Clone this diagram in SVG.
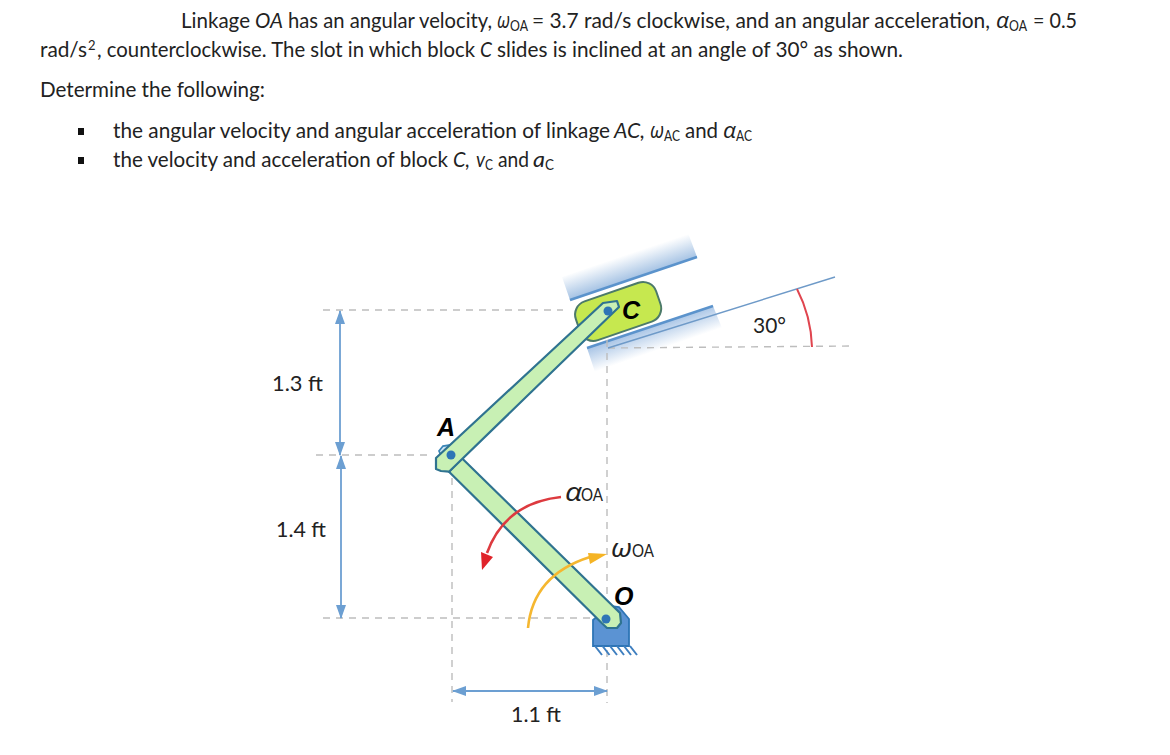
<svg xmlns="http://www.w3.org/2000/svg" width="1170" height="755" viewBox="0 0 1170 755">
<style>
text{font-family:Lato,"Open Sans","Liberation Sans",sans-serif;fill:#222;font-size:21px}
.i{font-style:italic}
.g{font-family:"Open Sans","Noto Sans","DejaVu Sans",sans-serif;font-style:italic}
.s{font-size:15px}
.d{font-size:21.500px}
.n{font-family:"Liberation Sans",Arial,sans-serif;font-weight:700;font-style:italic;font-size:25px;fill:#000}
.dash{fill:none;stroke:#bdbdbd;stroke-width:1.4;stroke-dasharray:7 6}
.dim{fill:none;stroke:#6c9fd2;stroke-width:1.8}
.link{fill:#c8f0b4;stroke:#2f7390;stroke-width:2.200;stroke-linejoin:round}
.pin{fill:#2e75b6}
.h{stroke:#3f7fc0;stroke-width:2}
</style>
<defs>
<linearGradient id="su" gradientUnits="userSpaceOnUse" x1="633" y1="279" x2="625" y2="255"><stop offset="0" stop-color="#a3c1e3"/><stop offset="1" stop-color="#fff"/></linearGradient>
<linearGradient id="sl" gradientUnits="userSpaceOnUse" x1="650" y1="327" x2="658" y2="350"><stop offset="0" stop-color="#a9c5e6"/><stop offset="1" stop-color="#fff"/></linearGradient>
<marker id="da" markerWidth="14" markerHeight="10" refX="13" refY="5" orient="auto-start-reverse" markerUnits="userSpaceOnUse"><path d="M0 0L14 5L0 10Z" fill="#6c9fd2"/></marker>
</defs>
<rect width="1170" height="755" fill="#fff"/>

<g id="problem-text">
<text x="181" y="28" textLength="69" lengthAdjust="spacingAndGlyphs">Linkage</text>
<text x="255" y="28" class="i" textLength="28" lengthAdjust="spacingAndGlyphs">OA</text>
<text x="288" y="28" textLength="204" lengthAdjust="spacingAndGlyphs">has an angular velocity,</text>
<text x="497" y="28" class="g" textLength="13" lengthAdjust="spacingAndGlyphs">ω</text>
<text x="510" y="31" class="s" textLength="18" lengthAdjust="spacingAndGlyphs">OA</text>
<text x="532" y="28" textLength="458" lengthAdjust="spacingAndGlyphs">= 3.7 rad/s clockwise, and an angular acceleration,</text>
<text x="996" y="28" class="g" textLength="13" lengthAdjust="spacingAndGlyphs">α</text>
<text x="1009" y="31" class="s" textLength="18" lengthAdjust="spacingAndGlyphs">OA</text>
<text x="1033" y="28" textLength="44" lengthAdjust="spacingAndGlyphs">= 0.5</text>

<text x="40" y="57" textLength="47" lengthAdjust="spacingAndGlyphs">rad/s</text>
<text x="88" y="50" style="font-size:13px">2</text>
<text x="97" y="57" textLength="378" lengthAdjust="spacingAndGlyphs">, counterclockwise.  The slot in which block</text>
<text x="480" y="57" class="i" textLength="12" lengthAdjust="spacingAndGlyphs">C</text>
<text x="497" y="57" textLength="406" lengthAdjust="spacingAndGlyphs">slides is inclined at an angle of 30° as shown.</text>

<text x="40" y="97" textLength="225" lengthAdjust="spacingAndGlyphs">Determine the following:</text>

<rect x="78" y="128" width="6" height="7" fill="#111"/>
<rect x="78" y="157" width="6" height="7" fill="#111"/>

<text x="113" y="138" textLength="497" lengthAdjust="spacingAndGlyphs">the angular velocity and angular acceleration of linkage</text>
<text x="614" y="138" class="i" textLength="31" lengthAdjust="spacingAndGlyphs">AC,</text>
<text x="650" y="138" class="g" textLength="14" lengthAdjust="spacingAndGlyphs">ω</text>
<text x="664" y="141" class="s" textLength="16" lengthAdjust="spacingAndGlyphs">AC</text>
<text x="685" y="138" textLength="33" lengthAdjust="spacingAndGlyphs">and</text>
<text x="723" y="138" class="g" textLength="13" lengthAdjust="spacingAndGlyphs">α</text>
<text x="736" y="141" class="s" textLength="16" lengthAdjust="spacingAndGlyphs">AC</text>

<text x="113" y="167" textLength="335" lengthAdjust="spacingAndGlyphs">the velocity and acceleration of block</text>
<text x="453" y="167" class="i" textLength="17" lengthAdjust="spacingAndGlyphs">C,</text>
<text x="476" y="167" class="i" textLength="9" lengthAdjust="spacingAndGlyphs">v</text>
<text x="485" y="170" class="s" textLength="8" lengthAdjust="spacingAndGlyphs">C</text>
<text x="498" y="167" textLength="31" lengthAdjust="spacingAndGlyphs">and</text>
<text x="533" y="167" class="i" textLength="12" lengthAdjust="spacingAndGlyphs">a</text>
<text x="545" y="170" class="s" textLength="9" lengthAdjust="spacingAndGlyphs">C</text>
</g>

<g id="slot">
<path d="M570 300L697 257L688 233L562 277Z" fill="url(#su)"/>
<path d="M570 300L697 257" stroke="#5b93cc" stroke-width="2.500" fill="none"/>
<path d="M587 348L713 306L722 328L595 372Z" fill="url(#sl)"/>
<path d="M587 348L713 306" stroke="#5b93cc" stroke-width="2.500" fill="none"/>
</g>

<g id="connectors">
<path class="dash" d="M323 310H563"/>
<path class="dash" d="M316 455H428"/>
<path class="dash" d="M323 618H592"/>
<path class="dash" d="M452 478V702"/>
<path class="dash" d="M607 340V610M607 650V703"/>
<path class="dash" d="M608 348L855 346"/>
<path d="M608 348L835 277" fill="none" stroke="#6e9ac8" stroke-width="1.400"/>
<path d="M797 289Q811 316 812 347" fill="none" stroke="#e0454f" stroke-width="2"/>
<path class="dim" d="M340 311V455" marker-start="url(#da)" marker-end="url(#da)"/>
<path class="dim" d="M341 456V618" marker-start="url(#da)" marker-end="url(#da)"/>
<path class="dim" d="M453 691H607" marker-start="url(#da)" marker-end="url(#da)"/>
</g>

<g id="ground-O">
<path d="M593 620V646H629V619L619 607L610 606Z" fill="#5b93d3" stroke="#2e75b6" stroke-width="1.800"/>
<path class="h" d="M595 646l7 9M602.500 646l7 9M610 646l7 9M617 646l7 9M624 646l7 9M630 646l7 9"/>
</g>

<g id="block-C">
<rect x="575.500" y="291" width="85" height="41" rx="14" transform="rotate(-19 618 311)" fill="#c6e84f" stroke="#4c7a6a" stroke-width="2"/>
<text x="622" y="319" class="n">C</text>
</g>

<g id="link-OA">
<path class="link" d="M461.700 458L620 613L621 623L617 628H607L601.700 623L449 471.700Z"/>
<circle class="pin" cx="606" cy="619" r="4.500"/>
<text x="614" y="605" class="n">O</text>
</g>

<g id="link-AC">
<path d="M439 451L443 446L450 445L456 450L444 462Z" fill="#cfe6f5" stroke="#3b86b8" stroke-width="1.800"/>
<path class="link" d="M436 458L603 303L617 301L619 307L449 471.700L441 471L436 469Z"/>
<circle class="pin" cx="451" cy="455" r="4.500"/>
<circle class="pin" cx="608" cy="311" r="4.500"/>
<text x="437" y="436" class="n">A</text>
</g>

<g id="alpha-OA">
<path d="M561 497Q505 503 487 553" fill="none" stroke="#dd3a3f" stroke-width="2.600"/>
<path d="M482 570L481 552L493 557Z" fill="#e0232a"/>
<text x="565" y="501" class="g" style="font-size:25px" textLength="17" lengthAdjust="spacingAndGlyphs">α</text>
<text x="581" y="501" style="font-size:16.500px" textLength="22" lengthAdjust="spacingAndGlyphs">OA</text>
</g>

<g id="omega-OA">
<path d="M528 628Q533 575 590 557" fill="none" stroke="#f5b730" stroke-width="2.600"/>
<path d="M607 554L588 553L590 564Z" fill="#f5b425"/>
<text x="611" y="557" class="g" style="font-size:25px" textLength="21" lengthAdjust="spacingAndGlyphs">ω</text>
<text x="632" y="557" style="font-size:16.500px" textLength="22" lengthAdjust="spacingAndGlyphs">OA</text>
</g>

<g id="labels">
<text x="272" y="391" class="d" textLength="51" lengthAdjust="spacingAndGlyphs">1.3 ft</text>
<text x="276" y="537" class="d" textLength="50" lengthAdjust="spacingAndGlyphs">1.4 ft</text>
<text x="511" y="722" class="d" textLength="50" lengthAdjust="spacingAndGlyphs">1.1 ft</text>
<text x="753" y="333" class="d" textLength="33" lengthAdjust="spacingAndGlyphs">30°</text>
</g>
</svg>
